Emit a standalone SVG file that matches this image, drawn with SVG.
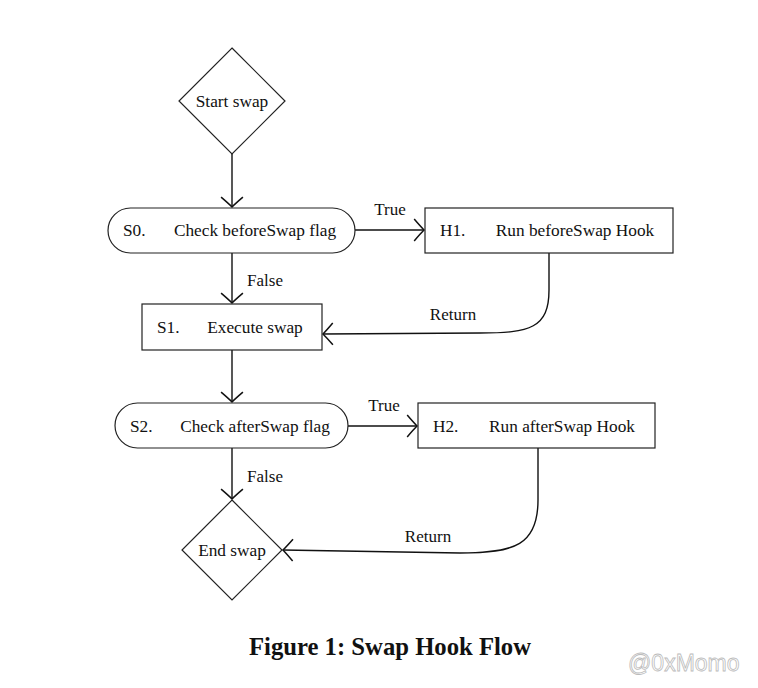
<svg xmlns="http://www.w3.org/2000/svg" width="758" height="688" viewBox="0 0 758 688">
<style>
.node{fill:#fff;stroke:#222;stroke-width:1.2}
.t{font-family:"Liberation Serif","Times New Roman",serif;font-size:17.3px;fill:#111}
.lbl{font-family:"Liberation Serif","Times New Roman",serif;font-size:17px;fill:#111}
.edge{fill:none;stroke:#111;stroke-width:1.4}
.cap{font-family:"Liberation Serif","Times New Roman",serif;font-size:24.7px;font-weight:bold;fill:#111}
.wm{font-family:"Liberation Sans",Arial,sans-serif;font-size:23px;fill:#fff;stroke:#bbb;stroke-width:0.8}
</style>
<defs>
<marker id="arr" markerUnits="userSpaceOnUse" markerWidth="20" markerHeight="24" refX="0" refY="0" viewBox="-12 -11 14 22" orient="auto">
<path d="M-9,-10 Q-3,-3 0,0 Q-3,3 -9,10" fill="none" stroke="#111" stroke-width="1.4"/>
</marker>
</defs>
<rect width="758" height="688" fill="#fff"/>
<g id="connectors">
<path class="edge" d="M232,154 L232,207" marker-end="url(#arr)"/>
<path class="edge" d="M355,230 L424,230" marker-end="url(#arr)"/>
<path class="edge" d="M232,253 L232,303" marker-end="url(#arr)"/>
<path class="edge" d="M549,253 L549,290 C549,328 530,333 480,333 L323,334" marker-end="url(#arr)"/>
<path class="edge" d="M232,350 L232,402" marker-end="url(#arr)"/>
<path class="edge" d="M348,426 L417,426" marker-end="url(#arr)"/>
<path class="edge" d="M232,448 L232,499" marker-end="url(#arr)"/>
<path class="edge" d="M538,448 L538,500 C538,545 515,553 460,553 L283,550" marker-end="url(#arr)"/>
<text class="lbl" x="390" y="215" text-anchor="middle">True</text>
<text class="lbl" x="265" y="286" text-anchor="middle">False</text>
<text class="lbl" x="453" y="320" text-anchor="middle">Return</text>
<text class="lbl" x="384" y="411" text-anchor="middle">True</text>
<text class="lbl" x="265" y="482" text-anchor="middle">False</text>
<text class="lbl" x="428" y="542" text-anchor="middle">Return</text>
</g>
<g id="start">
<polygon class="node" points="232,48 285,101 232,154 179,101"/>
<text class="t" x="232" y="107" text-anchor="middle">Start swap</text>
</g>
<g id="s0">
<rect class="node" x="108" y="208" width="247" height="45" rx="22.5"/>
<text class="t" x="123" y="236">S0.</text>
<text class="t" x="255" y="236" text-anchor="middle">Check beforeSwap flag</text>
</g>
<g id="h1">
<rect class="node" x="425" y="208" width="248" height="45"/>
<text class="t" x="440" y="236">H1.</text>
<text class="t" x="575" y="236" text-anchor="middle">Run beforeSwap Hook</text>
</g>
<g id="s1">
<rect class="node" x="142" y="304" width="180" height="46"/>
<text class="t" x="157" y="333">S1.</text>
<text class="t" x="255" y="333" text-anchor="middle">Execute swap</text>
</g>
<g id="s2">
<rect class="node" x="115" y="403" width="233" height="45" rx="22.5"/>
<text class="t" x="130" y="432">S2.</text>
<text class="t" x="255" y="432" text-anchor="middle">Check afterSwap flag</text>
</g>
<g id="h2">
<rect class="node" x="418" y="403" width="237" height="45"/>
<text class="t" x="433" y="432">H2.</text>
<text class="t" x="562" y="432" text-anchor="middle">Run afterSwap Hook</text>
</g>
<g id="end">
<polygon class="node" points="232,500 282,550 232,600 182,550"/>
<text class="t" x="232" y="556" text-anchor="middle">End swap</text>
</g>
<text class="cap" x="390" y="655" text-anchor="middle">Figure 1: Swap Hook Flow</text>
<text class="wm" x="628" y="671">@0xMomo</text>
</svg>
